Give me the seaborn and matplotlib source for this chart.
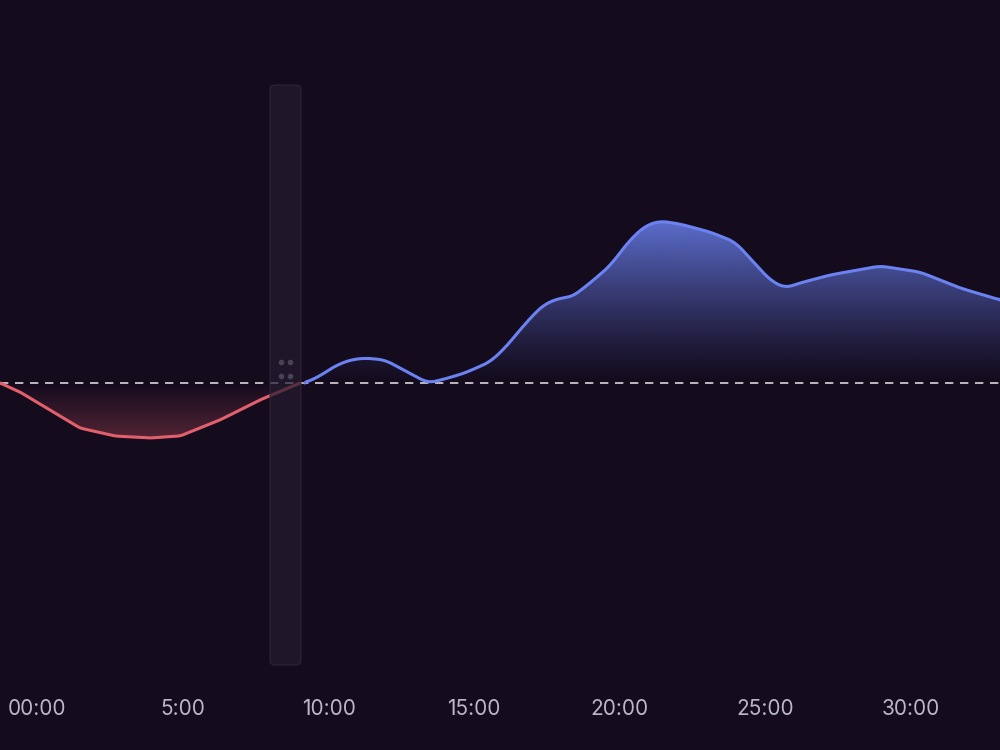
import numpy as np
import matplotlib
matplotlib.use("Agg")
import matplotlib.pyplot as plt
import seaborn as sns
from matplotlib.patches import FancyBboxPatch

# minutes vs. value (relative to baseline 0)
red_t = [-1.28, -0.60, 0.43, 1.46, 2.66, 3.87, 4.90, 6.27, 7.64, 9.02]
red_v = [0, -9, -27, -45, -53, -55, -53, -37, -17, 0]
blue_t = [9.19, 9.70, 10.22, 10.73, 11.25, 11.94, 12.45, 12.97, 13.41, 13.99, 14.68, 15.54,
          16.06, 16.57, 17.09, 17.43, 17.95, 18.36, 18.98, 19.66, 20.35, 20.87, 21.38, 22.07,
          23.10, 23.96, 24.47, 25.16, 25.67, 26.19, 27.22, 28.94, 30.31, 31.69, 33.06]
blue_v = [0, 7, 17, 23, 25, 23, 15, 7, 0, 4, 10, 21, 35, 53, 70, 79, 85, 86, 100, 117, 143,
          157, 162, 159, 151, 141, 125, 103, 95, 100, 108, 117, 111, 95, 83]
tick_pos = [0, 5, 10, 15, 20, 25, 30]
tick_lab = ["00:00", "5:00", "10:00", "15:00", "20:00", "25:00", "30:00"]

bg = "#140b1d"
red = "#e2606c"
blue = "#6b82f2"

sns.set_theme(style="dark")
fig = plt.figure(figsize=(10, 7.5), dpi=100, facecolor=bg)
ax = fig.add_axes([0, 0, 1, 1])
ax.set_facecolor(bg)
xmin, xmax = -1.284, 33.06
ax.set_xlim(xmin, xmax)
ax.set_ylim(-367, 383)
ax.axis("off")

def smooth(t, v):
    t = np.asarray(t, float); v = np.asarray(v, float)
    ts = np.linspace(t[0], t[-1], 500)
    vs = np.interp(ts, t, v)
    k = 5
    pad = np.pad(vs, k, mode="edge")
    vs2 = np.convolve(pad, np.ones(2*k+1)/(2*k+1), mode="valid")
    vs2[0] = v[0]; vs2[-1] = v[-1]
    return ts, vs2

def gradient_fill(ts, vs, color, peak, top_alpha):
    rgb = matplotlib.colors.to_rgb(color)
    n = 256
    img = np.zeros((n, 1, 4))
    img[:, 0, :3] = rgb
    if peak > 0:
        img[:, 0, 3] = np.linspace(0, top_alpha, n) ** 1.2
        ext = [xmin, xmax, 0, peak]
    else:
        img[:, 0, 3] = np.linspace(top_alpha, 0, n)
        ext = [xmin, xmax, peak, 0]
    im = ax.imshow(img, aspect="auto", extent=ext, origin="lower", zorder=1)
    poly = ax.fill_between(ts, 0, vs, color="none", lw=0)
    im.set_clip_path(poly.get_paths()[0], transform=ax.transData)

rt, rv = smooth(red_t, red_v)
bt, bv = smooth(blue_t, blue_v)
gradient_fill(rt, rv, red, min(rv), 0.3)
gradient_fill(bt, bv, blue, max(bv), 0.85)

sns.lineplot(x=rt, y=rv, ax=ax, color=red, lw=2.2, zorder=3)
sns.lineplot(x=bt, y=bv, ax=ax, color=blue, lw=2.2, zorder=3)

ax.axhline(0, color="#d8d4dc", lw=1.2, ls=(0, (5, 4)), zorder=2)

# scrubber handle
bar = FancyBboxPatch((7.99, -282), 1.06, 580, boxstyle="round,pad=0,rounding_size=0.2",
                     facecolor="#241c30", edgecolor="#30283c", lw=1, alpha=0.7, zorder=4,
                     mutation_aspect=20)
ax.add_patch(bar)
for dx in (8.35, 8.69):
    for dy in (21, 7):
        ax.plot(dx, dy, "o", ms=3, color="#4a4256", zorder=5)

for p, l in zip(tick_pos, tick_lab):
    ax.text(p, -326, l, color="#bcb7c4", fontsize=15, ha="center", va="center",
            family=["Inter", "DejaVu Sans"])

fig.savefig("out.png", dpi=100, facecolor=bg)
